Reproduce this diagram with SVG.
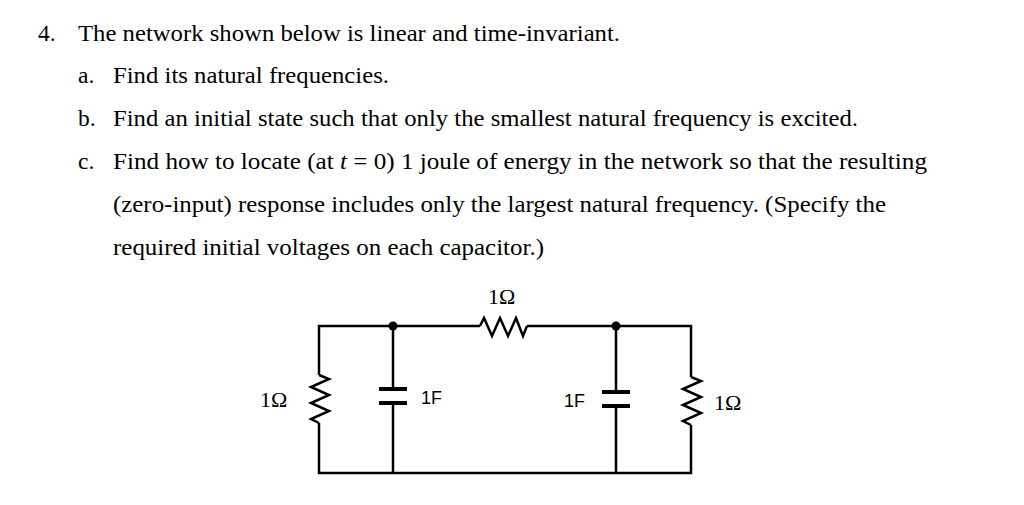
<svg xmlns="http://www.w3.org/2000/svg" width="1024" height="505" viewBox="0 0 1024 505">
<style>
.t{font-family:"Liberation Serif",serif;font-size:23.5px;fill:#000}
.o{font-family:"Liberation Serif",serif;font-size:22px;fill:#000}
.l{font-family:"Liberation Sans",sans-serif;font-size:18px;fill:#000}
.w{stroke:#000;stroke-width:2.5;fill:none;stroke-linejoin:miter}
.p{stroke:#000;stroke-width:4}
</style>
<rect width="1024" height="505" fill="#fff"/>
<g id="text">
<text class="t" x="38" y="41">4.</text><text class="t" x="78" y="41" textLength="542" lengthAdjust="spacingAndGlyphs">The network shown below is linear and time-invariant.</text>
<text class="t" x="78" y="83">a.</text><text class="t" x="113" y="83" textLength="276" lengthAdjust="spacingAndGlyphs">Find its natural frequencies.</text>
<text class="t" x="78" y="126">b.</text><text class="t" x="113" y="126" textLength="745" lengthAdjust="spacingAndGlyphs">Find an initial state such that only the smallest natural frequency is excited.</text>
<text class="t" x="78" y="169">c.</text><text class="t" x="113" y="169" textLength="814" lengthAdjust="spacingAndGlyphs">Find how to locate (at <tspan font-style="italic">t</tspan> = 0) 1 joule of energy in the network so that the resulting</text>
<text class="t" x="113" y="212" textLength="773" lengthAdjust="spacingAndGlyphs">(zero-input) response includes only the largest natural frequency. (Specify the</text>
<text class="t" x="113" y="255" textLength="431" lengthAdjust="spacingAndGlyphs">required initial voltages on each capacitor.)</text>
</g>
<g id="connectors">
<path class="w" d="M319,375 V326 H480 M527,326 H691 V377 M319,423 V473 H691 V425 M393,326 V389 M393,403 V473 M616,326 V392 M616,406 V473"/>
<circle cx="393" cy="326" r="4.5"/><circle cx="616" cy="326" r="4.5"/>
</g>
<g id="R_top"><path class="w" d="M480,326 L484,318 L492,336 L500,318 L508,336 L516,318 L523,336 L527,326"/><text class="o" x="488" y="304">1Ω</text></g>
<g id="R_left"><path class="w" d="M319,375 L329,379 L311,387 L329,395 L311,403 L329,411 L311,419 L319,423"/><text class="o" x="260" y="407">1Ω</text></g>
<g id="C_left"><line class="p" x1="379" y1="389" x2="407" y2="389"/><line class="p" x1="379" y1="403" x2="407" y2="403"/><text class="l" x="421" y="404">1F</text></g>
<g id="C_right"><line class="p" x1="602" y1="392" x2="630" y2="392"/><line class="p" x1="602" y1="406" x2="630" y2="406"/><text class="l" x="564" y="407">1F</text></g>
<g id="R_right"><path class="w" d="M691,377 L701,381 L683,389 L701,397 L683,405 L701,413 L683,421 L691,425"/><text class="o" x="714" y="410">1Ω</text></g>
</svg>
